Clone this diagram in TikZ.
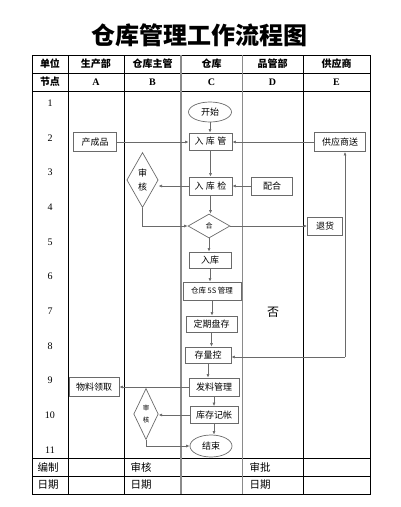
\documentclass[tikz,border=0pt]{standalone}
\usepackage{fontspec}
\setmainfont{Liberation Serif}
\newfontfamily\cjk{Noto Sans CJK SC}
\usetikzlibrary{arrows.meta, shapes.geometric, positioning}
\definecolor{boxline}{HTML}{6A6A6A}
\definecolor{laneline}{HTML}{8A8A8A}

\begin{document}
\begin{tikzpicture}[x=1pt, y=-1pt, font=\cjk\fontsize{9}{11}\selectfont,
  box/.style={draw=boxline, line width=0.8pt, inner sep=1pt},
  oval/.style={ellipse, draw=boxline, line width=0.7pt, inner sep=1pt},
  check/.style={diamond, draw=boxline, line width=0.7pt, inner sep=0pt, align=center},
  arr/.style={draw=boxline, line width=0.6pt, -{Latex[length=3.5pt, width=3pt]}},
  head/.style={font=\cjk\bfseries\fontsize{10}{12}\selectfont},
  foot/.style={anchor=west, font=\cjk\fontsize{10.5}{12}\selectfont}]

\useasboundingbox (0,0) rectangle (400,507);

% ---- title -------------------------------------------------------------
\node[font=\cjk\bfseries\fontsize{24}{26}\selectfont] (title) at (200,35) {仓库管理工作流程图};

% ---- table grid ----------------------------------------------------------
\draw[line width=0.6pt] (32,55) rectangle (370,494);
\foreach \y in {73,91,458,476}
  \draw[line width=0.6pt] (32,\y) -- (370,\y);
\foreach \x in {68,124,303}
  \draw[line width=0.6pt] (\x,55) -- (\x,494);
\draw[laneline, line width=1.1pt] (181,55) -- (181,494);
\draw[laneline, line width=1.1pt] (242.5,55) -- (242.5,494);

% ---- header rows ---------------------------------------------------------
\foreach \x/\t [count=\i] in {50/单位, 96/生产部, 152.5/仓库主管, 211.5/仓库, 272.5/品管部, 336.5/供应商}
  \node[head] (h\i) at (\x,64) {\t};
\node[head] (n0) at (50,82) {节点};
\foreach \x/\t [count=\i] in {96/A, 152.5/B, 211.5/C, 272.5/D, 336.5/E}
  \node[font=\rmfamily\bfseries\fontsize{10}{12}\selectfont] (n\i) at (\x,82.5) {\t};

% ---- node numbers --------------------------------------------------------
\foreach \n in {1,...,11}
  \node[font=\rmfamily\fontsize{10}{12}\selectfont] (r\n) at (50,{103+34.7*(\n-1)}) {\n};

% ---- flow nodes ----------------------------------------------------------
\node[oval, minimum width=43pt, minimum height=20pt] (start) at (210,112) {开始};
\node[box, minimum width=43pt, minimum height=17pt] (rkg) at (210.5,141.5) {入\hspace{2.5pt}库\hspace{2.5pt}管};
\node[box, minimum width=43pt, minimum height=19pt] (ccp) at (95,142) {产成品};
\node[box, minimum width=51pt, minimum height=19pt] (gys) at (340,142) {供应商送};
\node[check, minimum width=29pt, minimum height=55pt] (sh1) at (142.5,180) {审\\[3pt]核};
\node[box, minimum width=43pt, minimum height=18pt] (rkj) at (210.5,186) {入\hspace{2.5pt}库\hspace{2.5pt}检};
\node[box, minimum width=41pt, minimum height=18pt] (ph) at (272,186) {配合};
\node[check, minimum width=42pt, minimum height=24pt, font=\cjk\fontsize{7}{8}\selectfont] (he) at (209,226) {合};
\node[box, minimum width=35pt, minimum height=18pt] (th) at (325,226) {退货};
\node[box, minimum width=42pt, minimum height=16pt] (rk) at (210,260) {入库};
\node[box, minimum width=58pt, minimum height=18pt, font=\cjk\fontsize{7.5}{9}\selectfont] (ss) at (212,291) {仓库 5S 管理};
\node[box, minimum width=51pt, minimum height=16pt] (dp) at (211.5,324) {定期盘存};
\node[box, minimum width=46pt, minimum height=16pt] (clk) at (208,355) {存量控};
\node[font=\cjk\fontsize{12}{14}\selectfont] (fou) at (273,312) {否};
\node[box, minimum width=50pt, minimum height=18pt] (fl) at (214,387) {发料管理};
\node[box, minimum width=50pt, minimum height=19pt] (wl) at (94,387) {物料领取};
\node[box, minimum width=48pt, minimum height=17pt] (kj) at (214,415) {库存记帐};
\node[check, minimum width=24pt, minimum height=51pt, font=\cjk\fontsize{6.5}{8}\selectfont] (sh2) at (146,414) {审\\[4pt]核};
\node[oval, minimum width=42pt, minimum height=22pt] (end) at (211,446) {结束};

% ---- connectors ----------------------------------------------------------
\foreach \a/\b in {start/rkg, rkg/rkj, rkj/he, he/rk, rk/ss, ss/dp, dp/clk, clk/fl, fl/kj, kj/end}
  \draw[arr] (\a) -- (\a |- \b.north);
\draw[arr] (ccp) -- (ccp -| rkg.west);
\draw[arr] (gys) -- (gys -| rkg.east);
\draw[arr] (rkj) -- (rkj -| sh1.east);
\draw[arr] (ph) -- (ph -| rkj.east);
\draw[arr] (sh1.south) |- (he.west);
\draw[arr] (he) -- (he -| th.west);
\coordinate (back) at (345,357);
\draw[arr] (back) -- (gys.south -| back);
\draw[arr] (back) -- (clk.east |- back);
\draw[arr] (fl) -- (fl -| wl.east);
\draw[arr] (kj) -- (kj -| sh2.east);
\draw[arr] (sh2.south) |- (end.west);

% ---- footer --------------------------------------------------------------
\foreach \x/\t [count=\i] in {34/编制, 127/审核, 246/审批}
  \node[foot] (f\i) at (\x,467) {\t};
\foreach \x [count=\i] in {34,127,246}
  \node[foot] (d\i) at (\x,485) {日期};
\end{tikzpicture}
\end{document}
